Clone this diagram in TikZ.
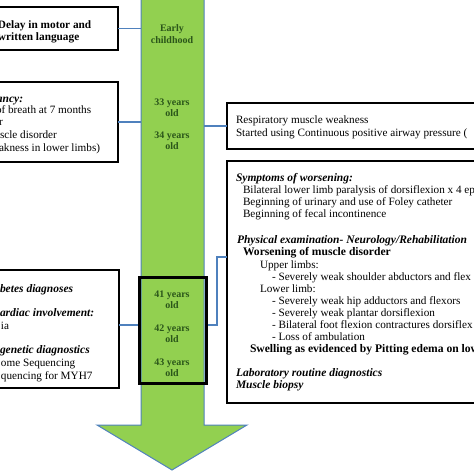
\documentclass[tikz,border=0pt]{standalone}
\usepackage{fontspec}
\setmainfont{Liberation Serif}
\definecolor{arrowgreen}{HTML}{92D050}
\definecolor{edgeblue}{HTML}{4F81BD}
\definecolor{agetext}{HTML}{2B561A}
\begin{document}
\begin{tikzpicture}[x=1pt,y=-1pt,
  box/.style={draw=black,line width=1.4pt,fill=white,inner sep=0pt,outer sep=0pt},
  conn/.style={draw=edgeblue,line width=1.7pt},
  txt/.style={anchor=base west,inner sep=0pt,outer sep=0pt,font=\fontsize{11.2}{12}\selectfont},
  bi/.style={txt,font=\fontsize{11.5}{12}\selectfont\bfseries\itshape},
  bd/.style={txt,font=\fontsize{11.6}{12}\selectfont\bfseries},
  bigbd/.style={txt,font=\fontsize{11.3}{12}\selectfont\bfseries},
  age/.style={align=center,inner sep=0pt,text=agetext,font=\fontsize{10}{11.5}\selectfont\bfseries}]
\useasboundingbox (0,0) rectangle (474,474);
\clip (0,0) rectangle (474,474);
\fill[white] (0,0) rectangle (474,474);

% timeline arrow
\path[fill=arrowgreen,draw=edgeblue,line width=1pt]
  (141,-5) -- (141,425) -- (97,425) -- (172,470) -- (247,425) -- (204,425) -- (204,-5) -- cycle;
\coordinate (shaftL) at (141,0);
\coordinate (shaftR) at (204,0);
\node[draw=black,line width=3pt,minimum width=67pt,minimum height=106pt,inner sep=0pt] (agebox) at (172.5,330) {};

% boxes
\node[box,minimum width=128pt,minimum height=43pt] (lb1) at (54,28.5) {};
\node[box,minimum width=128pt,minimum height=80pt] (lb2) at (54,122) {};
\node[box,minimum width=129pt,minimum height=118pt] (lb3) at (54.5,329) {};
\node[box,minimum width=258pt,minimum height=46pt] (rb1) at (356,126) {};
\node[box,minimum width=258pt,minimum height=242pt] (rb2) at (356,282) {};

% connectors
\coordinate (c3) at (119,325);
\coordinate (c4) at (217,257);
\draw[conn] (lb1.east) -- (lb1.east -| shaftL);
\draw[conn] (lb2.east) -- (lb2.east -| shaftL);
\draw[conn] (rb1.west) -- (rb1.west -| shaftR);
\draw[conn] (lb3.east |- c3) -- (agebox.west |- c3);
\draw[conn] (agebox.east |- c3) -| (c4) -- (c4 -| rb2.west);

% ages
\node[age] (a0) at (172,34) {Early\\childhood};
\node[age] (a33) at (172,107.5) {33 years\\old};
\node[age] (a34) at (172,140.5) {34 years\\old};
\node[age] (a41) at (172,299.5) {41 years\\old};
\node[age] (a42) at (172,333.5) {42 years\\old};
\node[age] (a43) at (172,367.5) {43 years\\old};

% left box 1
\node[bigbd] (l1a) at (-2,28) {Delay in motor and};
\node[bigbd] (l1b) at (-2,40) {written language};
% left box 2
\node[bi] (l2a) at (-3,102) {ancy:};
\node[txt] (l2b) at (-4,113) {of breath at 7 months};
\node[txt] (l2c) at (-1,125) {r};
\node[txt] (l2d) at (0,138) {scle disorder};
\node[txt] (l2e) at (-1,151) {akness in lower limbs)};
% left box 3
\node[bi] (l3a) at (0,292) {betes diagnoses};
\node[bi] (l3b) at (0,316) {ardiac involvement:};
\node[txt] (l3c) at (1,329) {ia};
\node[bi] (l3d) at (0,353) {genetic diagnostics};
\node[txt] (l3e) at (1,366) {ome Sequencing};
\node[txt] (l3f) at (1,379) {quencing for MYH7};

% right box 1
\node[txt] (r1a) at (236,123) {Respiratory muscle weakness};
\node[txt] (r1b) at (236,136) {Started using Continuous positive airway pressure (};
% right box 2
\node[bi] (r2a) at (236,181) {Symptoms of worsening:};
\node[txt] (r2b) at (243,193) {Bilateral lower limb paralysis of dorsiflexion x 4 ep};
\node[txt] (r2c) at (243,205) {Beginning of urinary and use of Foley catheter};
\node[txt] (r2d) at (243,217) {Beginning of fecal incontinence};
\node[bi] (r2e) at (237,243) {Physical examination- Neurology/Rehabilitation};
\node[bd] (r2f) at (243,255) {Worsening of muscle disorder};
\node[txt] (r2g) at (260,268) {Upper limbs:};
\node[txt] (r2h) at (272,280) {- Severely weak shoulder abductors and flex};
\node[txt] (r2i) at (260,292) {Lower limb:};
\node[txt] (r2j) at (272,304) {- Severely weak hip adductors and flexors};
\node[txt] (r2k) at (272,316) {- Severely weak plantar dorsiflexion};
\node[txt] (r2l) at (272,328) {- Bilateral foot flexion contractures dorsiflex};
\node[txt] (r2m) at (272,340) {- Loss of ambulation};
\node[bd] (r2n) at (250,352) {Swelling as evidenced by Pitting edema on low};
\node[bi] (r2o) at (236,376) {Laboratory routine diagnostics};
\node[bi] (r2p) at (236,388) {Muscle biopsy};
\end{tikzpicture}
\end{document}
